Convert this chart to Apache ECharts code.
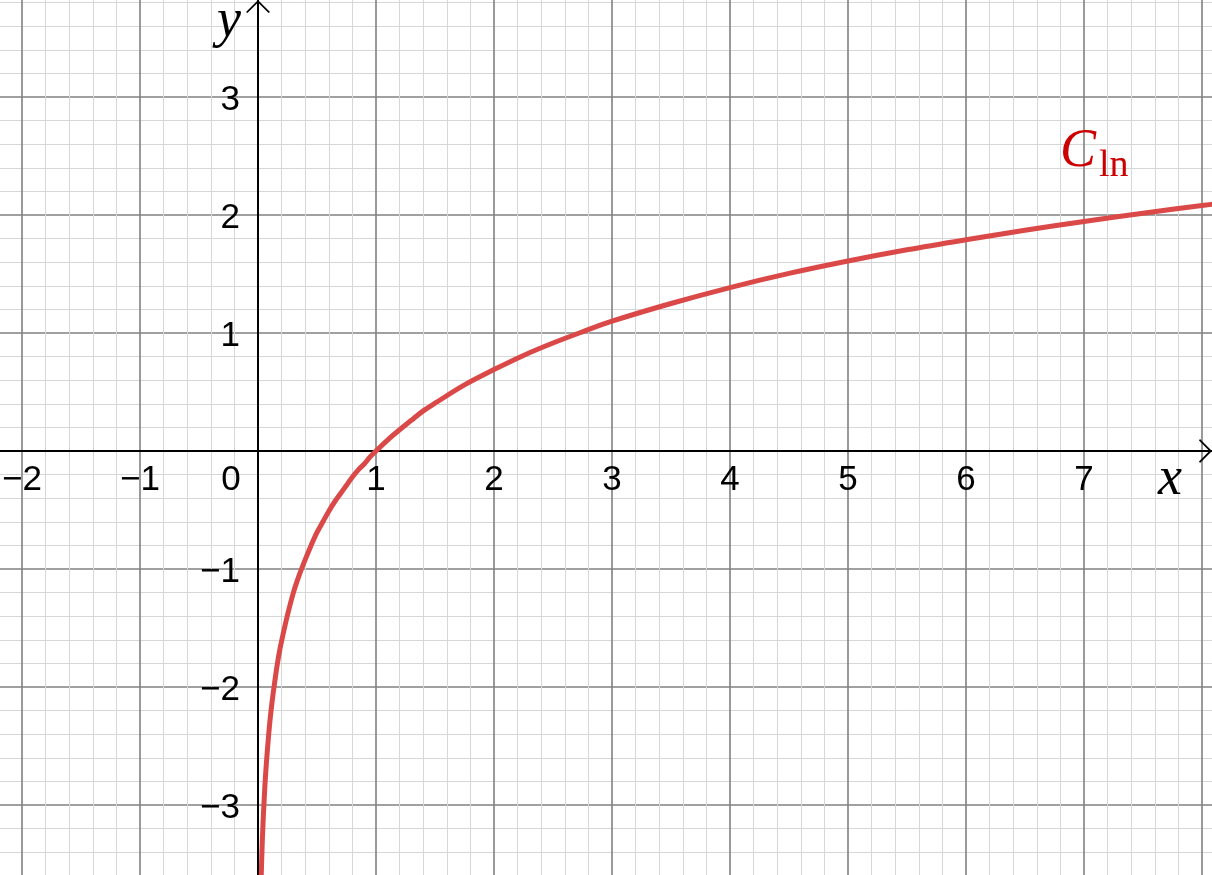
<!DOCTYPE html>
<html>
<head>
<meta charset="utf-8">
<script src="https://cdn.jsdelivr.net/npm/echarts@6/dist/echarts.min.js"></script>
<style>
html,body{margin:0;padding:0;background:#fff;}
#chart{width:1212px;height:875px;}
</style>
</head>
<body>
<div id="chart"></div>
<script>
const curveX = [0.025, 0.03, 0.035, 0.04, 0.045, 0.05, 0.06, 0.07, 0.08, 0.09, 0.1, 0.12, 0.14, 0.16, 0.18, 0.2, 0.25, 0.3, 0.35, 0.4, 0.45, 0.5, 0.55, 0.6, 0.65, 0.7, 0.75, 0.8, 0.85, 0.9, 0.95, 1, 1.1, 1.2, 1.3, 1.4, 1.5, 1.75, 2, 2.25, 2.5, 2.75, 3, 3.5, 4, 4.5, 5, 5.5, 6, 6.5, 7, 7.5, 8, 8.2];
const curveY = [-3.69, -3.51, -3.35, -3.22, -3.10, -3.00, -2.81, -2.66, -2.53, -2.41, -2.30, -2.12, -1.97, -1.83, -1.71, -1.61, -1.39, -1.20, -1.05, -0.92, -0.80, -0.69, -0.60, -0.51, -0.43, -0.36, -0.29, -0.22, -0.16, -0.11, -0.05, 0.00, 0.095, 0.18, 0.26, 0.34, 0.405, 0.56, 0.69, 0.81, 0.915, 1.01, 1.10, 1.25, 1.385, 1.505, 1.61, 1.705, 1.79, 1.87, 1.945, 2.015, 2.08, 2.105];
const xTicks = [-3, -2, -1, 0, 1, 2, 3, 4, 5, 6, 7, 8, 9];
const yTicks = [-4, -3, -2, -1, 0, 1, 2, 3, 4];
const xTickLabels = [-2, -1, 0, 1, 2, 3, 4, 5, 6, 7];
const yTickLabels = [-3, -2, -1, 1, 2, 3];

const curveData = curveX.map((x, i) => [x, curveY[i]]);
const fmt = v => String(Math.round(v)).replace('-', '\u2212');
const labelFont = '35px Liberation Sans, Arial, sans-serif';
const serif = 'Liberation Serif, DejaVu Serif, serif';
const arrowPath = 'path://M0,12 L12,0 L24,12 L22.6,13 L12,2.6 L1.4,13 Z';
const majorLine = {color: '#808080', width: 1.6};
const minorLine = {color: '#d6d6d6', width: 1};

const chart = echarts.init(document.getElementById('chart'));
chart.setOption({
  animation: false,
  backgroundColor: '#ffffff',
  grid: [
    {left: -96, right: -108, top: -21, bottom: -48, outerBoundsMode: 'none', containLabel: false},
    {left: 0, right: 0, top: 0, bottom: 0, outerBoundsMode: 'none', containLabel: false}
  ],
  xAxis: [
    {
      type: 'value', gridIndex: 0,
      min: xTicks[0], max: xTicks[xTicks.length - 1], interval: 1,
      axisLine: {show: false}, axisTick: {show: false}, axisLabel: {show: false},
      splitLine: {show: true, lineStyle: majorLine},
      minorTick: {show: false, splitNumber: 5},
      minorSplitLine: {show: true, lineStyle: minorLine}
    },
    {
      type: 'value', gridIndex: 1,
      min: -258 / 118, max: 954 / 118,
      axisLine: {show: true, onZero: true, symbol: ['none', arrowPath], symbolSize: [24, 13], symbolOffset: [0, -6.5],
        lineStyle: {color: '#000', width: 2}},
      axisTick: {show: false}, axisLabel: {show: false}, splitLine: {show: false}
    }
  ],
  yAxis: [
    {
      type: 'value', gridIndex: 0,
      min: yTicks[0], max: yTicks[yTicks.length - 1], interval: 1,
      axisLine: {show: false}, axisTick: {show: false}, axisLabel: {show: false},
      splitLine: {show: true, lineStyle: majorLine},
      minorTick: {show: false, splitNumber: 5},
      minorSplitLine: {show: true, lineStyle: minorLine}
    },
    {
      type: 'value', gridIndex: 1,
      min: -424 / 118, max: 451 / 118,
      axisLine: {show: true, onZero: true, symbol: ['none', arrowPath], symbolSize: [24, 13], symbolOffset: [0, -6.5],
        lineStyle: {color: '#000', width: 2}},
      axisTick: {show: false}, axisLabel: {show: false}, splitLine: {show: false}
    }
  ],
  series: [{
    name: 'C_ln',
    type: 'line',
    xAxisIndex: 0, yAxisIndex: 0,
    data: curveData,
    smooth: 0.35,
    showSymbol: false,
    clip: true,
    lineStyle: {color: '#db4848', width: 5},
    z: 5
  }]
});

// Tick labels placed through the axes' own scales
const toPx = (x, y) => chart.convertToPixel({xAxisIndex: 1, yAxisIndex: 1}, [x, y]);
const graphics = [];
xTickLabels.forEach(v => {
  const p = toPx(v, 0);
  graphics.push({
    type: 'text', z: 20, x: v === 0 ? p[0] - 27 : p[0], y: p[1] + 29,
    style: {text: fmt(v), font: labelFont, fill: '#000', align: 'center', verticalAlign: 'middle'}
  });
});
yTickLabels.forEach(v => {
  const p = toPx(0, v);
  graphics.push({
    type: 'text', z: 20, x: p[0] - 18, y: p[1] + 3,
    style: {text: fmt(v), font: labelFont, fill: '#000', align: 'right', verticalAlign: 'middle'}
  });
});
graphics.push(
  {type: 'text', x: 229, y: 22, z: 20, style: {text: 'y', font: 'italic 54px ' + serif, fill: '#000', align: 'center', verticalAlign: 'middle'}},
  {type: 'text', x: 1170, y: 480, z: 20, style: {text: 'x', font: 'italic 54px ' + serif, fill: '#000', align: 'center', verticalAlign: 'middle'}},
  {type: 'text', x: 1060, y: 152, z: 20, style: {text: 'C', font: 'italic 54px ' + serif, fill: '#cc0000', align: 'left', verticalAlign: 'middle'}},
  {type: 'text', x: 1099, y: 166, z: 20, style: {text: 'ln', font: '38px ' + serif, fill: '#cc0000', align: 'left', verticalAlign: 'middle'}}
);
chart.setOption({graphic: graphics});
</script>
</body>
</html>
